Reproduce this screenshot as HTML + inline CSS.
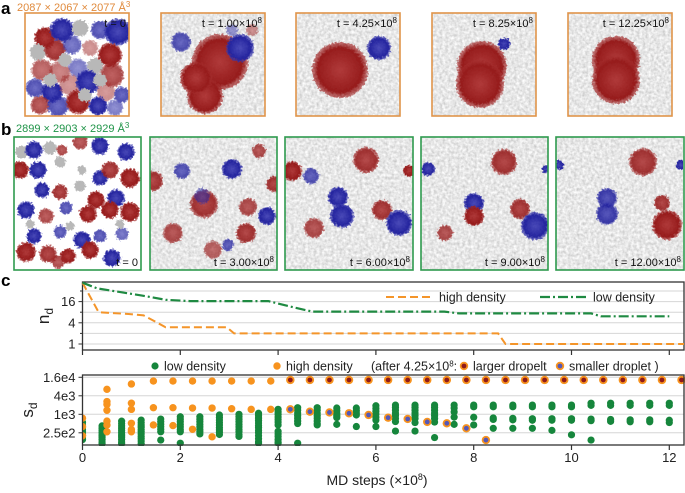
<!DOCTYPE html>
<html><head><meta charset="utf-8">
<style>
html,body{margin:0;padding:0;background:#fff;}
body{width:685px;height:488px;overflow:hidden;font-family:"Liberation Sans",Arial,sans-serif;}
svg text{font-family:"Liberation Sans",Arial,sans-serif;}
</style></head>
<body>
<svg id="fig" width="685" height="488" viewBox="0 0 685 488" xmlns="http://www.w3.org/2000/svg">
<defs>
  <filter id="noise" x="0" y="0" width="100%" height="100%">
    <feTurbulence type="fractalNoise" baseFrequency="0.35" numOctaves="2" seed="3"/>
    <feColorMatrix type="matrix" values="0.6 0 0 0 0.5  0.6 0 0 0 0.5  0.6 0 0 0 0.5  0 0 0 0 1"/>
  </filter>
  <filter id="fuzz" x="-30%" y="-30%" width="160%" height="160%">
    <feTurbulence type="fractalNoise" baseFrequency="0.5" numOctaves="2" seed="7" result="t"/>
    <feDisplacementMap in="SourceGraphic" in2="t" scale="5" xChannelSelector="R" yChannelSelector="G"/>
  </filter>
  <radialGradient id="gRed"><stop offset="0" stop-color="#b03a3a"/><stop offset="0.8" stop-color="#961c1c"/><stop offset="1" stop-color="#a63030" stop-opacity="0.6"/></radialGradient>
  <radialGradient id="gBlue"><stop offset="0" stop-color="#4a4ab8"/><stop offset="0.8" stop-color="#24249e"/><stop offset="1" stop-color="#3a3ab0" stop-opacity="0.6"/></radialGradient>
  <clipPath id="cpA0"><rect x="25" y="13" width="104" height="103"/></clipPath>
  <clipPath id="cpA1"><rect x="161" y="13" width="104" height="103"/></clipPath>
  <clipPath id="cpA2"><rect x="296" y="13" width="104" height="103"/></clipPath>
  <clipPath id="cpA3"><rect x="432" y="13" width="104" height="103"/></clipPath>
  <clipPath id="cpA4"><rect x="568" y="13" width="104" height="103"/></clipPath>
  <clipPath id="cpB0"><rect x="14" y="137" width="127" height="133"/></clipPath>
  <clipPath id="cpB1"><rect x="150" y="137" width="127" height="133"/></clipPath>
  <clipPath id="cpB2"><rect x="285" y="137" width="128" height="133"/></clipPath>
  <clipPath id="cpB3"><rect x="421" y="137" width="127" height="133"/></clipPath>
  <clipPath id="cpB4"><rect x="556" y="137" width="127" height="133"/></clipPath>
  <clipPath id="cpPlot"><rect x="82" y="374" width="603" height="72"/></clipPath>
</defs>

<text x="1" y="14" font-size="17" font-weight="bold">a</text>
<text x="17" y="11" font-size="11" fill="#e08a3c">2087 × 2067 × 2077 Å<tspan dy="-4" font-size="8">3</tspan></text>
<text x="1" y="135" font-size="17" font-weight="bold">b</text>
<text x="16" y="132" font-size="11" fill="#1f9448">2899 × 2903 × 2929 Å<tspan dy="-4" font-size="8">3</tspan></text>
<text x="1" y="286" font-size="17" font-weight="bold">c</text>

<g id="snaps"></g>
<g id="chart"></g>

<script>
const NS="http://www.w3.org/2000/svg";
const snaps=document.getElementById('snaps');
function el(tag,attrs,parent){const e=document.createElementNS(NS,tag);for(const k in attrs)e.setAttribute(k,attrs[k]);(parent||snaps).appendChild(e);return e;}

const aBoxes=[[25,13,104,103,'t = 0',false],[161,13,104,103,'t = 1.00×10',true],[296,13,104,103,'t = 4.25×10',true],[432,13,104,103,'t = 8.25×10',true],[568,13,104,103,'t = 12.25×10',true]];
const bBoxes=[[14,137,127,133,'t = 0',false],[150,137,127,133,'t = 3.00×10',true],[285,137,128,133,'t = 6.00×10',true],[421,137,127,133,'t = 9.00×10',true],[556,137,128,133,'t = 12.00×10',true]];

const aBlobs=[
 [],
 [[220,62,28,'r',1],[205,96,18,'r',1],[196,78,16,'r',1],[181,42,10,'b',0.8],[240,48,14,'b',1],[252,30,6,'r',0.5],[232,30,6,'b',0.5]],
 [[340,70,28,'r',1],[379,48,12,'b',1]],
 [[482,66,25,'r',1],[480,84,24,'r',1],[504,44,6,'b',1]],
 [[616,60,24,'r',1],[616,80,24,'r',1]]
];
const a0=[[45,38,8,'r',1],[62,30,9,'b',1],[80,28,6,'g',1],[100,30,7,'b',0.8],[118,32,10,'b',1],[38,52,6,'g',1],[55,50,8,'r',0.9],[72,45,7,'b',0.7],[90,48,6,'r',0.5],[110,55,9,'r',1],[42,70,8,'r',0.7],[60,72,8,'r',0.6],[78,68,7,'b',0.6],[95,66,6,'g',1],[112,75,9,'r',0.8],[35,88,7,'b',0.8],[52,92,8,'b',1],[70,85,8,'r',0.5],[88,82,9,'b',1],[106,92,7,'r',0.5],[122,95,6,'b',0.8],[40,105,7,'r',0.8],[58,106,8,'b',0.8],[78,102,9,'r',1],[98,106,7,'b',1],[115,108,6,'b',0.6],[65,60,5,'g',1],[100,80,5,'g',1],[85,95,5,'g',1],[50,80,5,'g',1]];
aBlobs[0]=a0;
const bBlobs=[
 [[22,152,6,'g',1],[34,150,8,'b',1],[50,148,6,'g',1],[62,150,5,'r',0.8],[80,142,7,'r',0.8],[100,146,8,'b',1],[126,152,8,'b',1],[20,170,8,'r',1],[38,170,8,'b',1],[60,162,5,'g',1],[82,170,4,'g',1],[100,178,7,'b',1],[110,170,8,'r',0.9],[130,178,9,'r',1],[42,190,7,'b',1],[60,192,7,'r',0.9],[80,186,5,'g',1],[96,200,8,'r',1],[116,198,8,'b',1],[26,210,8,'b',1],[46,216,7,'r',0.8],[66,208,6,'b',0.8],[88,214,8,'r',1],[110,210,8,'r',1],[130,212,9,'r',1],[34,236,7,'b',1],[60,232,6,'b',0.8],[82,240,8,'b',1],[100,236,6,'b',0.8],[122,234,6,'b',0.7],[26,252,9,'r',1],[48,254,8,'r',0.9],[68,256,7,'r',1],[90,250,8,'r',1],[112,258,8,'b',1],[58,262,6,'r',0.8],[70,226,4,'g',1],[120,224,4,'g',1],[30,224,4,'g',1]],
 [[153,181,10,'r',0.9],[259,151,7,'r',0.8],[182,171,8,'b',0.8],[232,169,10,'b',1],[204,204,14,'r',0.9],[248,207,9,'r',0.8],[267,216,9,'b',1],[274,184,8,'r',0.9],[173,233,10,'r',0.8],[246,233,10,'r',0.9],[213,250,9,'r',0.7],[228,245,6,'b',0.8],[202,196,8,'b',0.6]],
 [[366,160,13,'r',0.9],[292,171,10,'r',1],[311,176,8,'b',0.8],[338,197,10,'b',1],[342,216,12,'b',1],[382,210,10,'r',0.9],[399,223,13,'b',1],[409,171,6,'r',1],[314,228,10,'r',0.8]],
 [[504,162,13,'r',0.9],[428,169,7,'b',1],[474,203,10,'b',1],[474,216,10,'r',1],[520,209,10,'r',0.9],[535,226,14,'b',1],[445,233,8,'r',0.8],[546,169,4,'b',1]],
 [[643,162,14,'r',0.9],[559,165,5,'b',1],[681,165,5,'b',1],[607,198,10,'b',0.9],[607,214,11,'b',0.9],[667,225,15,'r',1],[662,203,8,'r',0.9]]
];
function blobFill(c){return c==='r'?'url(#gRed)':c==='b'?'url(#gBlue)':'#b8b8b8';}
function drawBoxes(boxes,blobs,prefix,stroke,textTop,scale0){
  boxes.forEach((b,i)=>{
    const g=el('g',{'clip-path':'url(#cp'+prefix+i+')'});
    
    
    if(b[5]){el('rect',{x:b[0],y:b[1],width:b[2],height:b[3],filter:'url(#noise)'},g);}
    else el('rect',{x:b[0],y:b[1],width:b[2],height:b[3],fill:'#fff'},g);
    const bg=el('g',{filter:'url(#fuzz)'},g);
    const sc=(i===0)?scale0:1;
    blobs[i].forEach(d=>{el('circle',{cx:d[0],cy:d[1],r:d[2]*sc,fill:blobFill(d[3]),opacity:d[4]},bg);});
    const fr=el('rect',{x:b[0],y:b[1],width:b[2],height:b[3],fill:'none',stroke:stroke,'stroke-width':1.6});
    
    
    const tx=el('text',{x:b[0]+b[2]-3,y:textTop?b[1]+14:b[1]+b[3]-4,'font-size':11,'text-anchor':'end',fill:'#111'});
    
    
    tx.textContent=b[4];
    if(b[5]){const s=el('tspan',{dy:-4,'font-size':8},tx);s.textContent='8';}
  });
}
drawBoxes(aBoxes,aBlobs,'A','#e0944a',true,1.35);
drawBoxes(bBoxes,bBlobs,'B','#2e9a4e',false,1.1);
</script>

<script>
const xTicks=[0,2,4,6,8,10,12];
const highT=[0,0.33,1.0,1.25,1.7,2.95,3.1,8.5,8.65,12.3];
const highN=[55,8,7,6.5,3,3,2,2,1,1];
const lowT=[0,0.3,1.2,1.7,2.2,3.8,4.2,4.7,7.4,7.7,10.4,10.6,12.0];
const lowN=[55,38,24,18,16.5,16.5,12,8.3,8.3,7.4,7.4,6.1,6.1];
const ndTicks=[1,4,16];
const ndTickLabels=['1','4','16'];
const sdTicks=[16000,4000,1000,250];
const sdTickLabels=['1.6e4','4e3','1e3','2.5e2'];
const orangeT=[0,0.5,1.0,1.45,1.85,2.25,2.65,3.05,3.45,3.85];
const orangeS=[[750,400,200],[6500,2600,2100,1350,600,450,270],[9700,2300,1450,510,320,270],[12100,1640,450],[12100,1640,430],[12100,1600,325],[12100,1600,185],[12100,1520],[12100,1450],[12100,1450]];
const afterT=[4.25,4.65,5.05,5.45,5.85,6.25,6.65,7.05,7.45,7.85,8.25,8.65,9.05,9.45,9.85,10.25,10.65,11.05,11.45,11.85,12.25];
const largerS=[13100,13100,13100,13100,13100,13100,13100,13100,13100,13100,13100,13100,13100,13100,13100,13100,13100,13100,13100,13100,13100];
const smallerS=[1450,1215,1150,1080,950,775,705,565,510,350,145,null,null,null,null,null,null,null,null,null,null];
const greenT=[0,0.4,0.8,1.2,1.6,2.0,2.4,2.8,3.2,3.6,4.0,4.4,4.8,5.2,5.6,6.0,6.4,6.8,7.2,7.6,8.0,8.4,8.8,9.2,9.6,10.0,10.4,10.8,11.2,11.6,12.0];
const greenS=[
 [550,450,380,320,270,230,200,170,150],
 [420,350,300,250,210,180,150,125,110],
 [600,500,420,350,300,250,210,180,150,125,110],
 [650,540,450,380,320,270,230,190,160,135,110],
 [700,580,480,400,330,270,145],
 [830,690,570,470,390,320,270,115],
 [830,690,570,470,390,320,270,230],
 [950,790,650,540,450,370,310,260,220],
 [1000,830,690,570,470,390,320,270,220,190],
 [1080,900,750,620,520,430,370,300,250,200,160,130,115],
 [1450,1200,1000,820,680,560,450,280,230,190,150,125,115],
 [1640,1350,1100,900,740,600,500,115],
 [1640,1350,1100,900,740,600,500,450],
 [1600,1300,1050,900,780,470],
 [1600,1300,1100,950,400],
 [1900,1550,1250,1000,800,650,400],
 [2000,1650,1350,1100,900,720,580,285],
 [2000,1650,1350,1100,900,720,540,285],
 [2000,1650,1350,1100,900,720,560,175],
 [2000,1600,1200,810,470],
 [2000,1750,800,450],
 [2000,1750,760,680,350],
 [2000,1750,740,660,350],
 [2000,1750,720,640,350],
 [2000,1750,720,640,300],
 [2000,1750,720,640,215],
 [2300,1950,700,620,145],
 [2300,1950,680,590],
 [2300,1950,660,570],
 [2300,1950,660,570],
 [2300,1950,640,540]
];

const X0=82.5, XS=48.9;
function xs(t){return X0+t*XS;}
function yTop(n){return 344-10.6*Math.log2(n);}
function yBot(s){return 377.3+9.25*Math.log2(16000/s);}

const C=document.getElementById('chart');
function mk(tag,attrs,parent){const e=document.createElementNS(NS,tag);for(const k in attrs)e.setAttribute(k,attrs[k]);(parent||C).appendChild(e);return e;}
function ts(parent,txt,attrs){const s=mk('tspan',attrs||{},parent);s.textContent=txt;return s;}
const RIGHT=684;

const topG=mk('g',{});


[1,2,4,8,16,32].forEach(v=>{const l=mk('line',{x1:X0,x2:RIGHT,y1:yTop(v),y2:yTop(v),stroke:'#d6d6d6','stroke-width':1},topG);
 
 });
const tf=mk('rect',{x:X0,y:282,width:RIGHT-X0,height:68,fill:'none',stroke:'#333','stroke-width':1.3},topG);


ndTicks.forEach((v,i)=>{
 mk('line',{x1:X0-4,x2:X0,y1:yTop(v),y2:yTop(v),stroke:'#333','stroke-width':1},topG);
 const t=mk('text',{x:X0-7,y:yTop(v)+4.5,'font-size':13,'text-anchor':'end',fill:'#222'},topG);
 
 
 t.textContent=ndTickLabels[i];
});
[2,8,32].forEach(v=>mk('line',{x1:X0-2.5,x2:X0,y1:yTop(v),y2:yTop(v),stroke:'#333','stroke-width':1},topG));
xTicks.forEach(v=>mk('line',{x1:xs(v),x2:xs(v),y1:350,y2:355,stroke:'#333','stroke-width':1.2},topG));
function path(T,N){return T.map((t,i)=>(i?'L':'M')+xs(t).toFixed(1)+' '+yTop(N[i]).toFixed(1)).join(' ');}
const hp=mk('path',{d:path(highT,highN),fill:'none',stroke:'#f4952a','stroke-width':2,'stroke-dasharray':'8,4'},topG);


const lp=mk('path',{d:path(lowT,lowN),fill:'none',stroke:'#1f8a42','stroke-width':2.2,'stroke-dasharray':'10,3,2,3'},topG);


const yl1=mk('text',{x:0,y:0,'font-size':17,transform:'translate(49,316) rotate(-90)','text-anchor':'middle',fill:'#222'});


ts(yl1,'n');ts(yl1,'d',{'font-size':12,dy:4});
const lg1=mk('g',{});


mk('line',{x1:386,x2:432,y1:297,y2:297,stroke:'#f4952a','stroke-width':2,'stroke-dasharray':'8,4'},lg1);
let tt=mk('text',{x:439,y:301.5,'font-size':12.5,fill:'#222'},lg1);tt.textContent='high density';


mk('line',{x1:540,x2:586,y1:297,y2:297,stroke:'#1f8a42','stroke-width':2.2,'stroke-dasharray':'10,3,2,3'},lg1);
tt=mk('text',{x:593,y:301.5,'font-size':12.5,fill:'#222'},lg1);tt.textContent='low density';



const bot=mk('g',{});


sdTicks.forEach((v,i)=>{
 const l=mk('line',{x1:X0,x2:RIGHT,y1:yBot(v),y2:yBot(v),stroke:'#d6d6d6','stroke-width':1},bot);
 
 
 mk('line',{x1:X0-4,x2:X0,y1:yBot(v),y2:yBot(v),stroke:'#333','stroke-width':1},bot);
 const t=mk('text',{x:X0-7,y:yBot(v)+4.5,'font-size':13,'text-anchor':'end',fill:'#222'},bot);
 
 
 t.textContent=sdTickLabels[i];
});
const dots=mk('g',{'clip-path':'url(#cpPlot)'},bot);
greenT.forEach((t,i)=>greenS[i].forEach(s=>{
 const c=mk('circle',{cx:xs(t),cy:yBot(s),r:3.6,fill:'#16863c'},dots);
 
 
}));
orangeT.forEach((t,i)=>orangeS[i].forEach(s=>{
 const c=mk('circle',{cx:xs(t),cy:yBot(s),r:3.7,fill:'#f7931e'},dots);
 
 
}));
afterT.forEach((t,i)=>{
 const c=mk('circle',{cx:xs(t),cy:yBot(largerS[i]),r:4.2,fill:'#f7931e'},dots);
 
 
 mk('circle',{cx:xs(t),cy:yBot(largerS[i]),r:2.4,fill:'#8e1a1a'},dots);
 if(smallerS[i]!==null){
  const d=mk('circle',{cx:xs(t),cy:yBot(smallerS[i]),r:4.2,fill:'#f7931e'},dots);
  
  
  mk('circle',{cx:xs(t),cy:yBot(smallerS[i]),r:2.4,fill:'#5558b8'},dots);
 }
});
const bf=mk('rect',{x:X0,y:375,width:RIGHT-X0,height:70,fill:'none',stroke:'#333','stroke-width':1.3},bot);


xTicks.forEach(v=>{
 mk('line',{x1:xs(v),x2:xs(v),y1:445,y2:450,stroke:'#333','stroke-width':1.2},bot);
 const t=mk('text',{x:xs(v),y:462,'font-size':13,'text-anchor':'middle',fill:'#222'},bot);
 
 
 t.textContent=String(v);
});
const yl2=mk('text',{x:0,y:0,'font-size':17,transform:'translate(33,410) rotate(-90)','text-anchor':'middle',fill:'#222'});


ts(yl2,'s');ts(yl2,'d',{'font-size':12,dy:4});
const xl=mk('text',{x:377,y:485,'font-size':14,'text-anchor':'middle',fill:'#222'});


ts(xl,'MD steps (×10');ts(xl,'8',{'font-size':9,dy:-5});ts(xl,')',{dy:5});
const lg2=mk('g',{});


mk('circle',{cx:155,cy:366,r:3.6,fill:'#16863c'},lg2);
tt=mk('text',{x:164,y:370.5,'font-size':12.5,fill:'#222'},lg2);tt.textContent='low density';


mk('circle',{cx:277,cy:366,r:3.7,fill:'#f7931e'},lg2);
tt=mk('text',{x:286,y:370.5,'font-size':12.5,fill:'#222'},lg2);tt.textContent='high density';


tt=mk('text',{x:371,y:370.5,'font-size':12.5,fill:'#222'},lg2);


ts(tt,'(after 4.25×10');ts(tt,'8',{'font-size':8,dy:-4});ts(tt,':',{dy:4});
mk('circle',{cx:464,cy:366,r:4.2,fill:'#f7931e'},lg2);mk('circle',{cx:464,cy:366,r:2.4,fill:'#8e1a1a'},lg2);
tt=mk('text',{x:473,y:370.5,'font-size':12.5,fill:'#222'},lg2);tt.textContent='larger dropelt';


mk('circle',{cx:560,cy:366,r:4.2,fill:'#f7931e'},lg2);mk('circle',{cx:560,cy:366,r:2.4,fill:'#5558b8'},lg2);
tt=mk('text',{x:569,y:370.5,'font-size':12.5,fill:'#222'},lg2);tt.textContent='smaller droplet )';


</script>
</svg>
</body></html>
